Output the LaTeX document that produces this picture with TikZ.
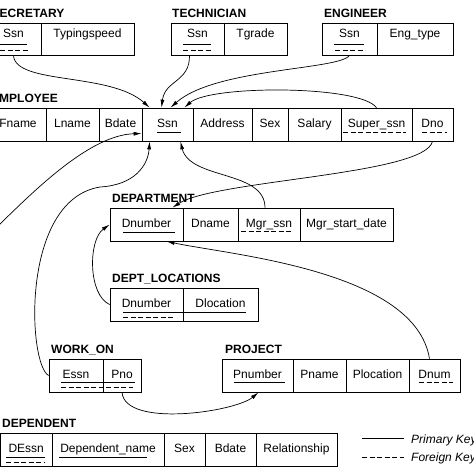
\documentclass[tikz,border=0pt]{standalone}
\usepackage{fontspec}
\setmainfont{Liberation Sans}
\usetikzlibrary{arrows.meta}

\tikzset{
  cell/.style={draw, line width=0.7pt, inner sep=0pt, minimum height=33pt, text height=9pt, text depth=3pt, font=\fontsize{12pt}{14pt}\selectfont},
  topcell/.style={cell, minimum height=32pt, text depth=12pt},
  relname/.style={anchor=base west, inner sep=0pt, font=\fontsize{12pt}{14pt}\selectfont\bfseries},
  legend/.style={anchor=base west, inner sep=0pt, font=\fontsize{12pt}{14pt}\selectfont\itshape},
  keyline/.style={line width=0.7pt},
  fkline/.style={keyline, dash pattern=on 5pt off 2.5pt},
  fklink/.style={-{Latex[length=8pt,width=4pt]}, line width=0.7pt},
}

\begin{document}
\begin{tikzpicture}[x=1pt,y=-1pt]
\useasboundingbox (0,0) rectangle (474,474);
\clip (0,0) rectangle (474,474);

% Relation names
\foreach \nm/\x/\y/\txt in {secretary/-8.5/17/SECRETARY, technician/172/17/TECHNICIAN, engineer/324/17/ENGINEER, employee/-9/102/EMPLOYEE, department/112/202/DEPARTMENT, dept-locations/112/282/DEPT\_LOCATIONS, work-on/51/353/WORK\_ON, project/225/353/PROJECT, dependent/2/427/DEPENDENT}
  \node[relname] (\nm) at (\x,\y) {\txt};

% Subclasses
\foreach \nm/\xa/\xb/\txt in {sec-ssn/-14/41/Ssn, sec-speed/41/134/Typingspeed, tech-ssn/171/224/Ssn, tech-grade/224/287/Tgrade, eng-ssn/322/377/Ssn, eng-type/377/453/Eng\_type}
  \node[topcell, minimum width={(\xb-(\xa))*1pt}] (\nm) at ({(\xa+\xb)/2},39) {\txt};

% EMPLOYEE
\foreach \nm/\xa/\xb/\txt in {emp-fname/-10/46/Fname, emp-lname/46/99/Lname, emp-bdate/99/142/Bdate, emp-ssn/142/193/Ssn, emp-address/193/252/Address, emp-sex/252/288/Sex, emp-salary/288/341/Salary, emp-super/341/412/Super\_ssn, emp-dno/412/453/Dno}
  \node[cell, minimum width={(\xb-(\xa))*1pt}] (\nm) at ({(\xa+\xb)/2},124.5) {\txt};

% DEPARTMENT and DEPT_LOCATIONS
\foreach \nm/\xa/\xb/\txt in {dept-dnumber/110/183/Dnumber, dept-dname/183/238/Dname, dept-mgr/238/300/Mgr\_ssn, dept-start/300/393/Mgr\_start\_date}
  \node[cell, minimum width={(\xb-(\xa))*1pt}] (\nm) at ({(\xa+\xb)/2},224.5) {\txt};
\foreach \nm/\xa/\xb/\txt in {loc-dnumber/110/183/Dnumber, loc-dlocation/183/258/Dlocation}
  \node[cell, minimum width={(\xb-(\xa))*1pt}] (\nm) at ({(\xa+\xb)/2},304.5) {\txt};

% WORK_ON and PROJECT
\foreach \nm/\xa/\xb/\txt in {works-essn/49/103/Essn, works-pno/103/141/Pno, proj-pnumber/222/293/Pnumber, proj-pname/293/346/Pname, proj-plocation/346/409/Plocation, proj-dnum/409/460/Dnum}
  \node[cell, minimum width={(\xb-(\xa))*1pt}] (\nm) at ({(\xa+\xb)/2},375.5) {\txt};

% DEPENDENT
\foreach \nm/\xa/\xb/\txt in {dep-essn/0.5/52/DEssn, dep-name/52/164/Dependent\_name, dep-sex/164/205/Sex, dep-bdate/205/256/Bdate, dep-rel/256/337/Relationship}
  \node[cell, minimum width={(\xb-(\xa))*1pt}] (\nm) at ({(\xa+\xb)/2},449.5) {\txt};

% Primary key underlines
\foreach \xa/\xb/\y in {0/27/44, 183/211/44, 334/364/44, 157/181/132, 123/175/232, 123/246/312, 61/135/382, 234/285/382, 6/45/457, 59/147/457}
  \draw[keyline] (\xa,\y) -- (\xb,\y);

% Foreign key underlines
\foreach \xa/\xb/\y in {0/29/50, 183/212/50, 335/365/50, 343/406/132, 422/447/132, 241/292/231.5, 123/174/317, 61/133/387, 419/453/382, 6/45/462}
  \draw[fkline] (\xa,\y) -- (\xb,\y);

% Referential links
\draw[fklink] (sec-ssn.south) .. controls (15,85) and (110,72) .. ([xshift=8pt]emp-ssn.north west);
\draw[fklink] ([xshift=-8pt]tech-ssn.south) .. controls (190,82) and (165,80) .. ([xshift=-6pt]emp-ssn.north);
\draw[fklink] (eng-ssn.south) .. controls (340,70) and (215,68) .. ([xshift=3pt]emp-ssn.north);
\draw[fklink] (emp-super.north) .. controls (360,85) and (210,85) .. ([xshift=-9pt]emp-ssn.north east);
\draw[fklink] (emp-dno.south) .. controls (425,175) and (215,180) .. ([xshift=-11pt]dept-dnumber.north east);
\draw[fklink] ([xshift=-4pt]dept-mgr.north) .. controls (265,170) and (190,180) .. ([xshift=-13pt]emp-ssn.south east);
\draw[fklink] (works-essn.west) .. controls (28,365) and (20,200) .. (100,187) .. controls (135,185) and (148,165) .. ([xshift=8pt]emp-ssn.south west);
\draw[fklink] (dep-essn.west) .. controls (-40,440) and (-20,243) .. (0,224) .. controls (35,190) and (90,135) .. ([yshift=-9pt]emp-ssn.west);
\draw[fklink] (loc-dnumber.west) .. controls (88,295) and (88,240) .. (dept-dnumber.west);
\draw[fklink] (works-pno.south) .. controls (125,428) and (235,412) .. ([xshift=1pt]proj-pnumber.south);
\draw[fklink] ([xshift=-5pt]proj-dnum.north) .. controls (415,270) and (230,255) .. ([xshift=20pt]dept-dnumber.south);

% Legend
\node[legend] (primary) at (411,443) {Primary Key};
\node[legend] (foreign) at (411,461) {Foreign Key};
\draw[keyline] (362,438) -- (404,438);
\draw[fkline] (362,457) -- (404,457);
\end{tikzpicture}
\end{document}
